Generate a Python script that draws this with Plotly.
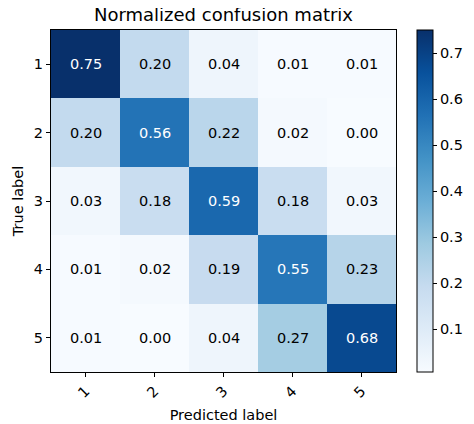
import plotly.graph_objects as go

# confusion matrix values (rows = true label, cols = predicted label)
labels = [1, 2, 3, 4, 5]
row1 = [0.75, 0.20, 0.04, 0.01, 0.01]
row2 = [0.20, 0.56, 0.22, 0.02, 0.00]
row3 = [0.03, 0.18, 0.59, 0.18, 0.03]
row4 = [0.01, 0.02, 0.19, 0.55, 0.23]
row5 = [0.01, 0.00, 0.04, 0.27, 0.68]
matrix = [row1, row2, row3, row4, row5]

blues = ['rgb(247,251,255)', 'rgb(222,235,247)', 'rgb(198,219,239)',
         'rgb(158,202,225)', 'rgb(107,174,214)', 'rgb(66,146,198)',
         'rgb(33,113,181)', 'rgb(8,81,156)', 'rgb(8,48,107)']

font = "DejaVu Sans"
fs = 14.5
# page has an 8px body margin, so the figure is 8px smaller than the window
W, H = 466, 416
L, R, T, B = 43, 78, 22, 52

fig = go.Figure()
fig.add_trace(go.Heatmap(
    z=matrix, x=labels, y=labels,
    colorscale=blues, zmin=0.007, zmax=0.75,
    showscale=True, hoverinfo='z',
    colorbar=dict(
        x=(409 - L) / (W - L - R), xanchor='left', xpad=0,
        y=0.5, ypad=0, len=1.0, lenmode='fraction', thickness=16,
        outlinecolor='black', outlinewidth=1,
        tickvals=[0.1, 0.2, 0.3, 0.4, 0.5, 0.6, 0.7],
        ticks='outside', ticklen=4, tickcolor='black',
        tickfont=dict(family=font, size=fs, color='black'),
    ),
))

thresh = 0.75 / 2
for i, row in enumerate(matrix):
    for j, v in enumerate(row):
        fig.add_annotation(
            x=labels[j], y=labels[i], text=f"{v:.2f}", showarrow=False,
            font=dict(family=font, size=fs,
                      color='white' if v > thresh else 'black'))

fig.update_layout(
    width=W, height=H,
    margin=dict(l=L, r=R, t=T, b=B, autoexpand=False),
    paper_bgcolor='white', plot_bgcolor='white',
    font=dict(family=font, size=fs, color='black'),
    title=dict(text="Normalized confusion matrix",
               x=(L + (W - R)) / 2 / W, xanchor='center',
               y=1, yanchor='top', pad=dict(t=0, b=0),
               font=dict(family=font, size=18, color='black')),
    xaxis=dict(
        tickvals=labels, ticktext=[str(v) for v in labels], tickangle=-45,
        ticks='outside', ticklen=4, tickcolor='black',
        showline=True, linecolor='black', linewidth=1, mirror=True,
        showgrid=False, zeroline=False, range=[0.5, 5.5],
        title=dict(text="Predicted label", standoff=9,
                   font=dict(family=font, size=fs)),
    ),
    yaxis=dict(
        tickvals=labels, ticktext=[str(v) for v in labels],
        ticks='outside', ticklen=4, tickcolor='black',
        showline=True, linecolor='black', linewidth=1, mirror=True,
        showgrid=False, zeroline=False, range=[5.5, 0.5],
        title=dict(text="True label", standoff=6,
                   font=dict(family=font, size=fs)),
    ),
)

fig.write_html("out.html")
